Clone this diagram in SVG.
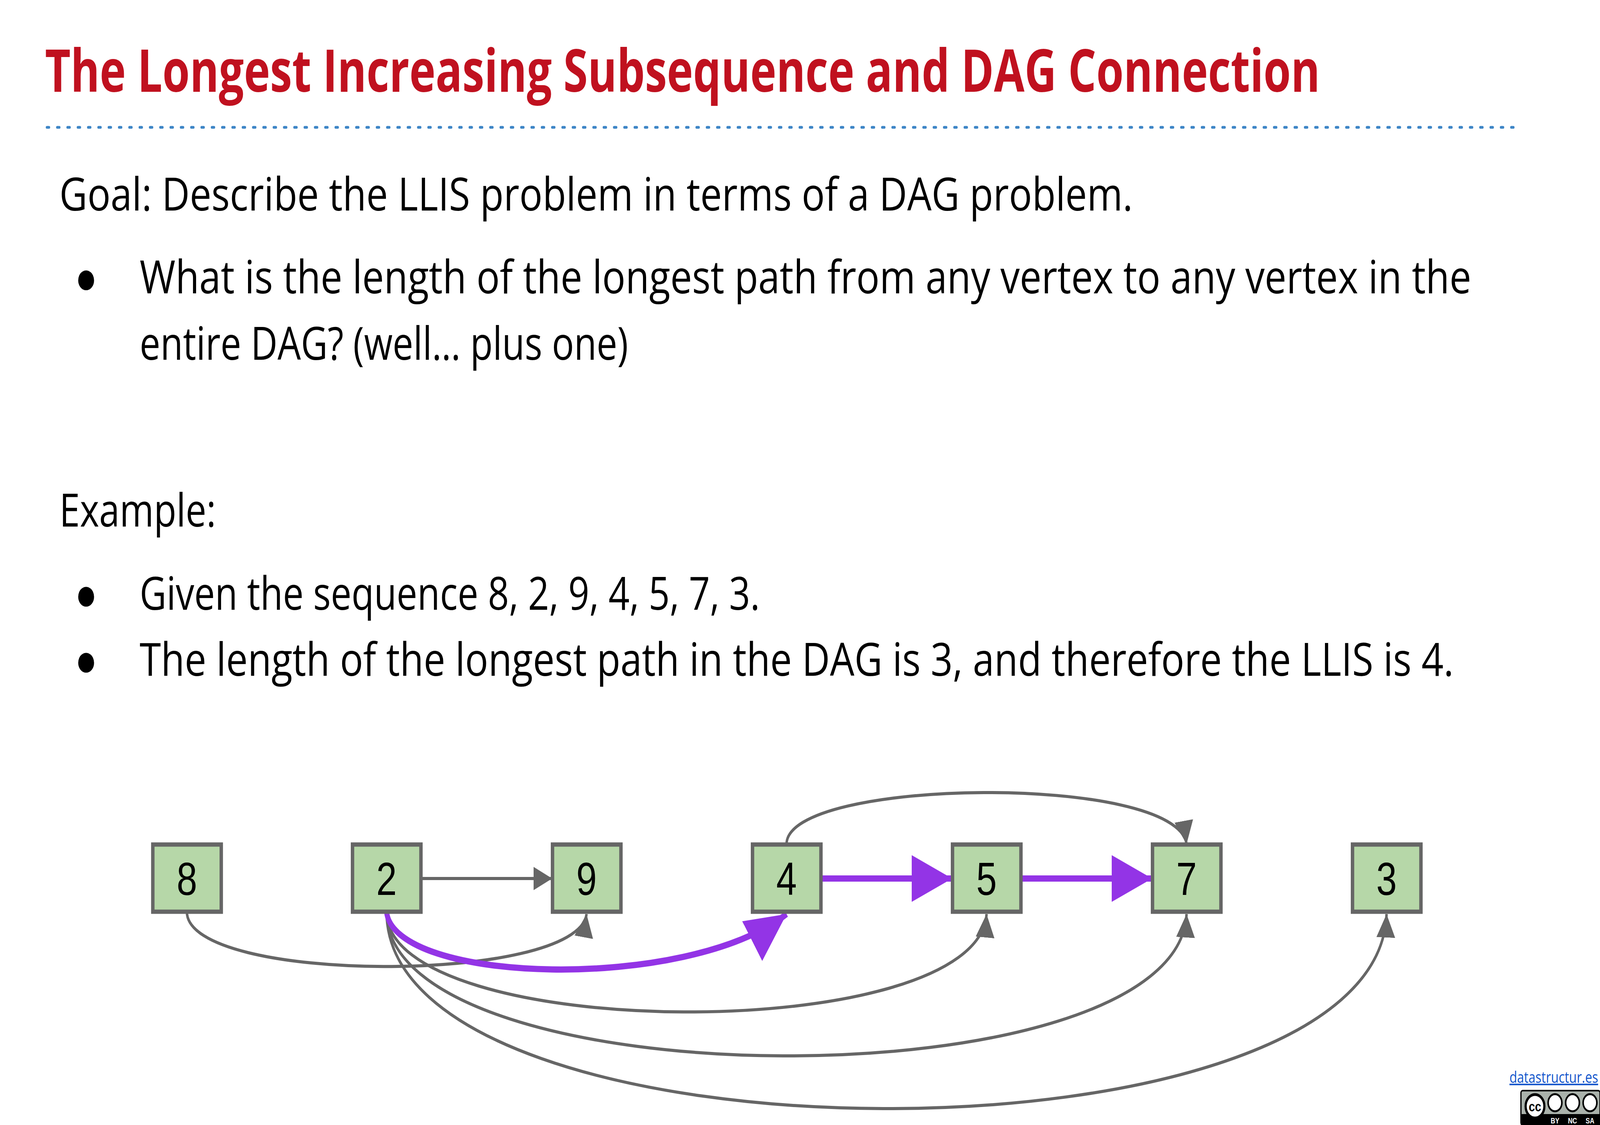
<svg xmlns="http://www.w3.org/2000/svg" width="5120" height="2880" viewBox="0 0 5120 2880" preserveAspectRatio="none" style="width:100vw;height:100vh;display:block">
<style>
.body{font-family:"Open Sans","Liberation Sans",sans-serif;font-size:118px;fill:#000}
.node rect{fill:#b6d7a8;stroke:#666;stroke-width:11}
.node text{font-family:"Liberation Sans",Arial,sans-serif;font-size:118px;fill:#000;text-anchor:middle}
.g{fill:none;stroke:#666;stroke-width:8}
.p{fill:none;stroke:#9334e6;stroke-width:16}
</style>
<defs>
<marker id="ag" markerUnits="userSpaceOnUse" markerWidth="70" markerHeight="70" refX="60" refY="30" orient="auto" viewBox="0 0 70 60"><path d="M0,0 L60,30 L0,60 Z" fill="#666"/></marker>
<marker id="ap" markerUnits="userSpaceOnUse" markerWidth="140" markerHeight="120" refX="130" refY="60" orient="auto" viewBox="0 0 140 120"><path d="M0,0 L130,60 L0,120 Z" fill="#9334e6"/></marker>
</defs>
<rect width="5120" height="2880" fill="#fff"/>
<text x="144" y="235" font-family="'Open Sans','Liberation Sans',sans-serif" font-weight="bold" font-size="150" fill="#c0111f" textLength="4080" lengthAdjust="spacingAndGlyphs">The Longest Increasing Subsequence and DAG Connection</text>
<line x1="150" y1="326" x2="4845" y2="326" stroke="#3d85c6" stroke-width="7" stroke-dasharray="7,26" stroke-linecap="round"/>
<text class="body" x="190" y="539" textLength="3435" lengthAdjust="spacingAndGlyphs">Goal: Describe the LLIS problem in terms of a DAG problem.</text>
<text class="body" x="240" y="751">●</text>
<text class="body" x="447" y="751" textLength="4261" lengthAdjust="spacingAndGlyphs">What is the length of the longest path from any vertex to any vertex in the</text>
<text class="body" x="447" y="921">entire DAG? (well… plus one)</text>
<text class="body" x="190" y="1348">Example:</text>
<text class="body" x="240" y="1561">●</text>
<text class="body" x="447" y="1561">Given the sequence 8, 2, 9, 4, 5, 7, 3.</text>
<text class="body" x="240" y="1730">●</text>
<text class="body" x="447" y="1730" textLength="4205" lengthAdjust="spacingAndGlyphs">The length of the longest path in the DAG is 3, and therefore the LLIS is 4.</text>
<g id="connectors">
<path class="g" d="M1347,2249 L1767,2249" marker-end="url(#ag)"/>
<path class="g" d="M598,2334 C598,2520 1850,2520 1877,2340" marker-end="url(#ag)"/>
<path class="g" d="M2517,2161 C2517,1990 3770,1980 3797,2161" marker-end="url(#ag)"/>
<path class="g" d="M1237,2334 C1237,2670 3130,2680 3157,2340" marker-end="url(#ag)"/>
<path class="g" d="M1237,2334 C1237,2820 3770,2830 3797,2340" marker-end="url(#ag)"/>
<path class="g" d="M1237,2334 C1237,3000 4410,3010 4437,2340" marker-end="url(#ag)"/>
<path class="p" d="M1237,2334 C1260,2520 2200,2540 2517,2340" marker-end="url(#ap)"/>
<path class="p" d="M2627,2249 L3047,2249" marker-end="url(#ap)"/>
<path class="p" d="M3267,2249 L3687,2249" marker-end="url(#ap)"/>
</g>
<g id="n8" class="node"><rect x="489" y="2162" width="219" height="172"/><text x="598" y="2291">8</text></g>
<g id="n2" class="node"><rect x="1128" y="2162" width="219" height="172"/><text x="1237" y="2291">2</text></g>
<g id="n9" class="node"><rect x="1768" y="2162" width="219" height="172"/><text x="1877" y="2291">9</text></g>
<g id="n4" class="node"><rect x="2408" y="2162" width="219" height="172"/><text x="2517" y="2291">4</text></g>
<g id="n5" class="node"><rect x="3048" y="2162" width="219" height="172"/><text x="3157" y="2291">5</text></g>
<g id="n7" class="node"><rect x="3688" y="2162" width="219" height="172"/><text x="3797" y="2291">7</text></g>
<g id="n3" class="node"><rect x="4328" y="2162" width="219" height="172"/><text x="4437" y="2291">3</text></g>
<g id="footer">
<text x="5114" y="2772" text-anchor="end" font-family="'Open Sans','Liberation Sans',sans-serif" font-size="40" fill="#1155cc" text-decoration="underline">datastructur.es</text>
<rect x="4867" y="2792" width="253" height="88" rx="6" fill="#aab2ab" stroke="#000" stroke-width="4"/>
<rect x="4867" y="2852" width="253" height="28" fill="#000"/>
<circle cx="4912" cy="2832" r="30" fill="#fff" stroke="#000" stroke-width="7"/>
<text x="4912" y="2845" text-anchor="middle" font-family="'Liberation Sans',sans-serif" font-weight="bold" font-size="36">cc</text>
<circle cx="4976" cy="2823" r="22" fill="#fff" stroke="#000" stroke-width="5"/>
<circle cx="5032" cy="2823" r="22" fill="#fff" stroke="#000" stroke-width="5"/>
<circle cx="5088" cy="2823" r="22" fill="#fff" stroke="#000" stroke-width="5"/>
<text x="4976" y="2876" text-anchor="middle" font-family="'Liberation Sans',sans-serif" font-weight="bold" font-size="20" fill="#fff">BY</text>
<text x="5032" y="2876" text-anchor="middle" font-family="'Liberation Sans',sans-serif" font-weight="bold" font-size="20" fill="#fff">NC</text>
<text x="5088" y="2876" text-anchor="middle" font-family="'Liberation Sans',sans-serif" font-weight="bold" font-size="20" fill="#fff">SA</text>
</g>
</svg>
